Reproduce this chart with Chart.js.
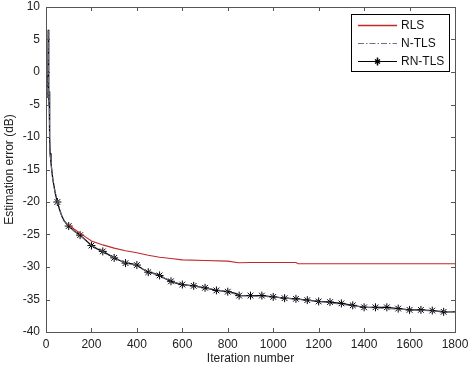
<!DOCTYPE html>
<html>
<head>
<meta charset="utf-8">
<script src="https://cdn.jsdelivr.net/npm/chart.js@4.4.1/dist/chart.umd.min.js"></script>
<style>
  html, body { margin: 0; padding: 0; background: #fff; }
  #wrap { width: 474px; height: 366px; }
</style>
</head>
<body>
<div id="wrap"><canvas id="myChart" width="474" height="366"></canvas></div>
<script>
// iteration numbers and estimation errors (dB)
const rnTlsIters = [1, 5, 8, 10, 12, 14, 16, 18, 22, 26, 30, 35, 40, 45, 50, 60, 70, 80, 90, 100,
  125, 150, 175, 200, 225, 250, 275, 300, 325, 350, 375, 400, 425, 450, 475, 500, 525, 550, 575, 600,
  650, 700, 750, 800, 830, 850, 900, 950, 1000, 1050, 1100, 1150, 1200, 1250, 1300, 1350, 1400,
  1450, 1500, 1550, 1600, 1650, 1700, 1750, 1800];
const rnTlsValues = [-0.5, -1, -4, 6.5, -5, -3, -10, -12.5, -14, -15.3, -16.5, -17.5, -18.5, -19.3, -20.0, -21.2, -22.2, -22.9, -23.3, -23.7,
  -24.5, -25.1, -25.9, -26.7, -27.2, -27.6, -28.1, -28.6, -29.0, -29.4, -29.5, -29.7, -30.3, -30.8, -31.0, -31.3, -31.8, -32.2, -32.5, -32.7,
  -32.9, -33.2, -33.6, -33.8, -34.0, -34.4, -34.4, -34.4, -34.6, -34.8, -34.9, -35.1, -35.3, -35.4, -35.6, -35.9, -36.2,
  -36.2, -36.2, -36.4, -36.6, -36.6, -36.7, -36.9, -36.9];

const nTlsIters = [1, 5, 8, 10, 12, 14, 16, 18, 22, 26, 30, 35, 40, 45, 50, 60, 70, 80, 90, 100,
  125, 150, 175, 200, 250, 300, 350, 400, 450, 500, 550, 600, 700, 800, 850, 1000, 1200, 1400, 1600, 1800];
const nTlsValues = [-0.5, -1, -4, 6.5, -5, -3, -10, -12.5, -14, -15.3, -16.5, -17.5, -18.5, -19.3, -20.0, -21.2, -22.2, -22.9, -23.3, -23.7,
  -24.5, -25.1, -25.9, -26.7, -27.6, -28.6, -29.4, -29.7, -30.8, -31.3, -32.2, -32.7, -33.2, -33.8, -34.4, -34.6, -35.3, -36.2, -36.6, -36.9];

const rlsIters = [100, 125, 150, 175, 200, 250, 300, 350, 400, 450, 500, 550, 600, 700, 800, 840, 850, 900,
  1000, 1100, 1110, 1800];
const rlsValues = [-23.5, -24.2, -24.8, -25.4, -26.0, -26.6, -27.1, -27.5, -27.8, -28.2, -28.5, -28.7, -28.9, -29.0, -29.1, -29.3, -29.35, -29.3,
  -29.3, -29.3, -29.5, -29.5];

const xTicks = [0, 200, 400, 600, 800, 1000, 1200, 1400, 1600, 1800];
const yTicks = [-40, -35, -30, -25, -20, -15, -10, -5, 0, 5, 10];

function toPoints(xs, ys) {
  return xs.map((x, i) => ({ x: x, y: ys[i] }));
}

const FONT = "'Liberation Sans', Arial, sans-serif";
const AXIS_COLOR = "#555";

// MATLAB-like frame: box around the plot, inward ticks on all four sides, boxed legend
const framePlugin = {
  id: "frame",
  afterDatasetsDraw(chart) {
    const c = chart.ctx;
    const a = chart.chartArea;
    const xs = chart.scales.x;
    const ys = chart.scales.y;
    const len = 4;
    c.save();
    c.strokeStyle = AXIS_COLOR;
    c.lineWidth = 1;
    c.beginPath();
    xTicks.forEach((v) => {
      const px = Math.round(xs.getPixelForValue(v)) + 0.5;
      c.moveTo(px, a.bottom); c.lineTo(px, a.bottom - len);
      c.moveTo(px, a.top); c.lineTo(px, a.top + len);
    });
    yTicks.forEach((v) => {
      const py = Math.round(ys.getPixelForValue(v)) + 0.5;
      c.moveTo(a.left, py); c.lineTo(a.left + len, py);
      c.moveTo(a.right, py); c.lineTo(a.right - len, py);
    });
    c.stroke();
    c.strokeRect(Math.round(a.left) + 0.5, Math.round(a.top) + 0.5,
      Math.round(a.right - a.left), Math.round(a.bottom - a.top));

    // legend
    const bx = 351, by = 14, bw = 98, bh = 57;
    c.fillStyle = "#fff";
    c.fillRect(bx, by, bw, bh);
    c.strokeStyle = "#000";
    c.strokeRect(bx + 0.5, by + 0.5, bw, bh);
    const rows = [25, 43, 61];
    c.font = "12px " + FONT;
    c.textBaseline = "middle";
    chart.data.datasets.forEach((ds, i) => {
      const y = rows[i] + 0.5;
      c.save();
      c.strokeStyle = ds.borderColor;
      c.lineWidth = ds.legendWidth;
      c.setLineDash(ds.borderDash || []);
      c.beginPath();
      c.moveTo(358, y); c.lineTo(397, y);
      c.stroke();
      c.restore();
      if (ds.legendMarker) {
        c.save();
        c.strokeStyle = "#000";
        c.lineWidth = 1.5;
        c.beginPath();
        c.moveTo(377.5, y - 4); c.lineTo(377.5, y + 4);
        c.moveTo(375, y - 2); c.lineTo(380, y + 2);
        c.moveTo(380, y - 2); c.lineTo(375, y + 2);
        c.stroke();
        c.restore();
      }
      c.fillStyle = "#111";
      c.fillText(ds.label, 401, rows[i] + 1);
    });
    c.restore();
  }
};

const ctx = document.getElementById("myChart").getContext("2d");

const config = {
  type: "line",
  data: {
    datasets: [
      {
        label: "RLS",
        data: toPoints(rlsIters, rlsValues),
        borderColor: "#c0282a",
        borderWidth: 1.1,
        legendWidth: 1.6,
        pointRadius: 0,
        tension: 0,
      },
      {
        label: "N-TLS",
        data: toPoints(nTlsIters, nTlsValues),
        borderColor: "#6a6f8c",
        borderWidth: 1,
        legendWidth: 1,
        borderDash: [6, 2, 1.5, 2],
        pointRadius: 0,
        tension: 0,
      },
      {
        label: "RN-TLS",
        data: toPoints(rnTlsIters, rnTlsValues),
        borderColor: "#000",
        backgroundColor: "#000",
        borderWidth: 1.3,
        legendWidth: 1,
        tension: 0,
        pointStyle: "star",
        pointBorderWidth: 1,
        pointRadius: (c) => {
          const p = c.raw;
          return p && p.x > 0 && p.x < 1800 && p.x % 50 === 0 ? 4 : 0;
        },
        legendMarker: true,
      },
    ],
  },
  options: {
    responsive: false,
    animation: false,
    layout: { autoPadding: false, padding: { top: 7, right: 19, left: 0, bottom: 0 } },
    plugins: {
      legend: { display: false },
      tooltip: { enabled: false },
    },
    scales: {
      x: {
        type: "linear",
        min: 0,
        max: 1800,
        afterBuildTicks: (s) => { s.ticks = xTicks.map((v) => ({ value: v })); },
        afterFit: (s) => { s.height = 34; s.paddingLeft = 0; s.paddingRight = 0; },
        grid: { display: false, drawTicks: false },
        border: { display: true, color: AXIS_COLOR },
        ticks: { font: { family: FONT, size: 12 }, color: "#222", padding: 5, maxRotation: 0,
          callback: (v) => String(v) },
        title: {
          display: true,
          text: "Iteration number",
          font: { family: FONT, size: 12 },
          color: "#222",
          padding: { top: 0, bottom: 0 },
        },
      },
      y: {
        min: -40,
        max: 10,
        afterBuildTicks: (s) => { s.ticks = yTicks.map((v) => ({ value: v })); },
        afterFit: (s) => { s.width = 46; s.paddingTop = 0; s.paddingBottom = 0; },
        grid: { display: false, drawTicks: false },
        border: { display: true, color: AXIS_COLOR },
        ticks: { font: { family: FONT, size: 12 }, color: "#222", padding: 6,
          callback: (v) => String(v) },
        title: {
          display: true,
          text: "Estimation error (dB)",
          font: { family: FONT, size: 12 },
          color: "#222",
          padding: { top: 2, bottom: 0 },
        },
      },
    },
  },
  plugins: [framePlugin],
};

new Chart(ctx, config);
</script>
</body>
</html>
